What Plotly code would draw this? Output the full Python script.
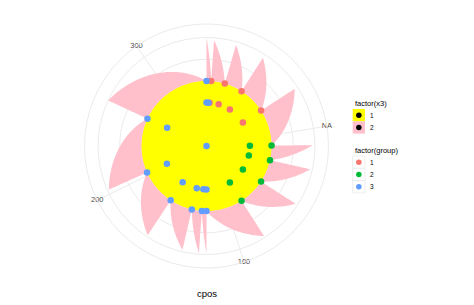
import numpy as np
import plotly.graph_objects as go

# ---------------- data ----------------
CPOS_MIN, CPOS_MAX = -99, 343          # full turn of the theta (cpos) scale
Y_MIN, Y_MAX = 0, 5                    # radial (y) scale
Y_BREAKS = [0, 1, 2, 3, 4, 5]
cpos_breaks = [0, 100, 200, 300]
cpos_labels = ["NA", "100", "200", "300"]

# points, by group
g1_cpos = [-94, -79, -59, -29, -94, -79, -59, -29]
g1_y = [3, 3, 3, 3, 2, 2, 2, 2]
g2_cpos = [11, 27, 52, 82, 11, 27, 52, 82]
g2_y = [3, 3, 3, 3, 2, 2, 2, 2]
g3_cpos = [-99, 122, 127, 138, 163, 203, 263, -99, -96, 122, 127, 138, 163, 203, 263, 0]
g3_y = [3, 3, 3, 3, 3, 3, 3, 2, 2, 2, 2, 2, 2, 2, 2, 0]

# area layer: x3 = 1 (base disc) and x3 = 2 (sawtooth petals stacked on top)
x3_1_height = 3
petal_cpos = [-99, -94, -79, -59, -29, 11, 27, 52, 82, 122, 127, 138, 163, 203, 263]
petal_top = [5.0, 4.9, 4.86, 4.83, 4.85, 4.9, 4.9, 4.9, 4.93, 4.95, 4.95, 4.92, 4.93, 4.93, 5.0]

group_colors = ["#F8766D", "#00BA38", "#619CFF"]
x3_colors = ["#FFFF00", "#FFC0CB"]
GRID = "#EBEBEB"

# ---------------- helpers ----------------
SPAN = CPOS_MAX - CPOS_MIN
R_OUT = Y_MAX * 0.45 / 0.4            # outer ring (ggplot's 0.45 circle)


def deg(c):
    return (np.asarray(c, dtype=float) - CPOS_MIN) / SPAN * 360.0


def munch(cs, ys, n=30):
    """straight edges in data space -> polar curves (coord munching)"""
    oc, oy = [], []
    m = len(cs)
    for i in range(m):
        c0, y0 = cs[i], ys[i]
        c1, y1 = cs[(i + 1) % m], ys[(i + 1) % m]
        t = np.linspace(0, 1, n, endpoint=False)
        oc.extend(c0 + (c1 - c0) * t)
        oy.extend(y0 + (y1 - y0) * t)
    oc.append(oc[0]); oy.append(oy[0])
    return oc, oy


fig = go.Figure()

# base disc (x3 = 1)
fig.add_trace(go.Barpolar(
    r=[x3_1_height, x3_1_height], base=[0, 0],
    theta=[90, 270], width=[180, 180],
    marker=dict(color=x3_colors[0], line=dict(color=x3_colors[0], width=0.6)),
    showlegend=False, hoverinfo="skip"))

# petals (x3 = 2)
ends = petal_cpos[1:] + [CPOS_MAX]
for c0, top, c1 in zip(petal_cpos, petal_top, ends):
    pc, py = munch([c0, c0, c1], [x3_1_height, top, x3_1_height])
    fig.add_trace(go.Scatterpolar(
        r=py, theta=deg(pc), mode="lines", fill="toself",
        fillcolor=x3_colors[1], line=dict(width=0, color=x3_colors[1]),
        showlegend=False, hoverinfo="skip"))

# points
for cs, ys, col in [(g1_cpos, g1_y, group_colors[0]),
                    (g2_cpos, g2_y, group_colors[1]),
                    (g3_cpos, g3_y, group_colors[2])]:
    fig.add_trace(go.Scatterpolar(
        r=ys, theta=deg(cs), mode="markers",
        marker=dict(size=6.5, color=col, line=dict(width=0)),
        showlegend=False, hoverinfo="skip"))

# theta labels
fig.add_trace(go.Scatterpolar(
    r=[R_OUT] * len(cpos_breaks), theta=deg(cpos_breaks), mode="text",
    text=cpos_labels, textfont=dict(size=7.5, color="#4D4D4D", family="Liberation Sans, Arial"),
    cliponaxis=False, showlegend=False, hoverinfo="skip"))

# ---------------- layout ----------------
W, H = 474, 305
CX, CY, RPX = 206.5, 146, 122
dom_x = [(CX - RPX) / W, (CX + RPX) / W]
dom_y = [(H - CY - RPX) / H, (H - CY + RPX) / H]

fig.update_layout(
    width=W, height=H, margin=dict(l=0, r=0, t=0, b=0),
    paper_bgcolor="white", plot_bgcolor="rgba(0,0,0,0)",
    showlegend=False,
    font=dict(family="Liberation Sans, Arial", color="black"),
    polar=dict(
        domain=dict(x=dom_x, y=dom_y),
        bgcolor="white",
        angularaxis=dict(rotation=90, direction="clockwise",
                         tickvals=list(deg(cpos_breaks)), showticklabels=False,
                         ticks="", showgrid=True, gridcolor=GRID, gridwidth=1,
                         showline=True, linecolor=GRID, linewidth=1),
        radialaxis=dict(range=[Y_MIN, R_OUT], tickvals=Y_BREAKS, showticklabels=False,
                        ticks="", showline=False, showgrid=True, gridcolor=GRID, gridwidth=1),
    ),
    xaxis=dict(range=[0, W], domain=[0, 1], visible=False, fixedrange=True),
    yaxis=dict(range=[H, 0], domain=[0, 1], visible=False, fixedrange=True),
)

# axis title
fig.add_annotation(x=CX, y=293.5, xref="x", yref="y", text="cpos", showarrow=False,
                   font=dict(size=9.5, color="black"), xanchor="center", yanchor="middle")

# ---------------- legend (drawn manually) ----------------
LX = 352.7
KW = 12.3
shapes = []
# factor(x3)
fig.add_annotation(x=LX, y=103.5, xref="x", yref="y", text="factor(x3)", showarrow=False,
                   font=dict(size=7.5), xanchor="left", yanchor="middle")
x3_key_y = [109, 121.3]
for yk, col, lab in zip(x3_key_y, x3_colors, ["1", "2"]):
    shapes.append(dict(type="rect", xref="x", yref="y", x0=LX, x1=LX + KW, y0=yk, y1=yk + KW,
                       fillcolor=col, line=dict(width=0), layer="below"))
    fig.add_annotation(x=LX + KW + 2.5, y=yk + KW / 2, xref="x", yref="y", text=lab,
                       showarrow=False, font=dict(size=6.5), xanchor="left", yanchor="middle")
fig.add_trace(go.Scatter(x=[LX + KW / 2] * 2, y=[y + KW / 2 for y in x3_key_y], mode="markers",
                         marker=dict(size=5.5, color="black"), hoverinfo="skip", showlegend=False))

# factor(group)
fig.add_annotation(x=LX, y=150, xref="x", yref="y", text="factor(group)", showarrow=False,
                   font=dict(size=7.5), xanchor="left", yanchor="middle")
grp_key_y = [156, 168.3, 180.6]
for yk, lab in zip(grp_key_y, ["1", "2", "3"]):
    shapes.append(dict(type="rect", xref="x", yref="y", x0=LX, x1=LX + KW, y0=yk, y1=yk + KW,
                       fillcolor="white", line=dict(width=0.6, color="#E3E3E3"), layer="below"))
    fig.add_annotation(x=LX + KW + 2.5, y=yk + KW / 2, xref="x", yref="y", text=lab,
                       showarrow=False, font=dict(size=6.5), xanchor="left", yanchor="middle")
fig.add_trace(go.Scatter(x=[LX + KW / 2] * 3, y=[y + KW / 2 for y in grp_key_y], mode="markers",
                         marker=dict(size=5.5, color=group_colors), hoverinfo="skip", showlegend=False))

fig.update_layout(shapes=shapes)
fig.write_html("out.html")
